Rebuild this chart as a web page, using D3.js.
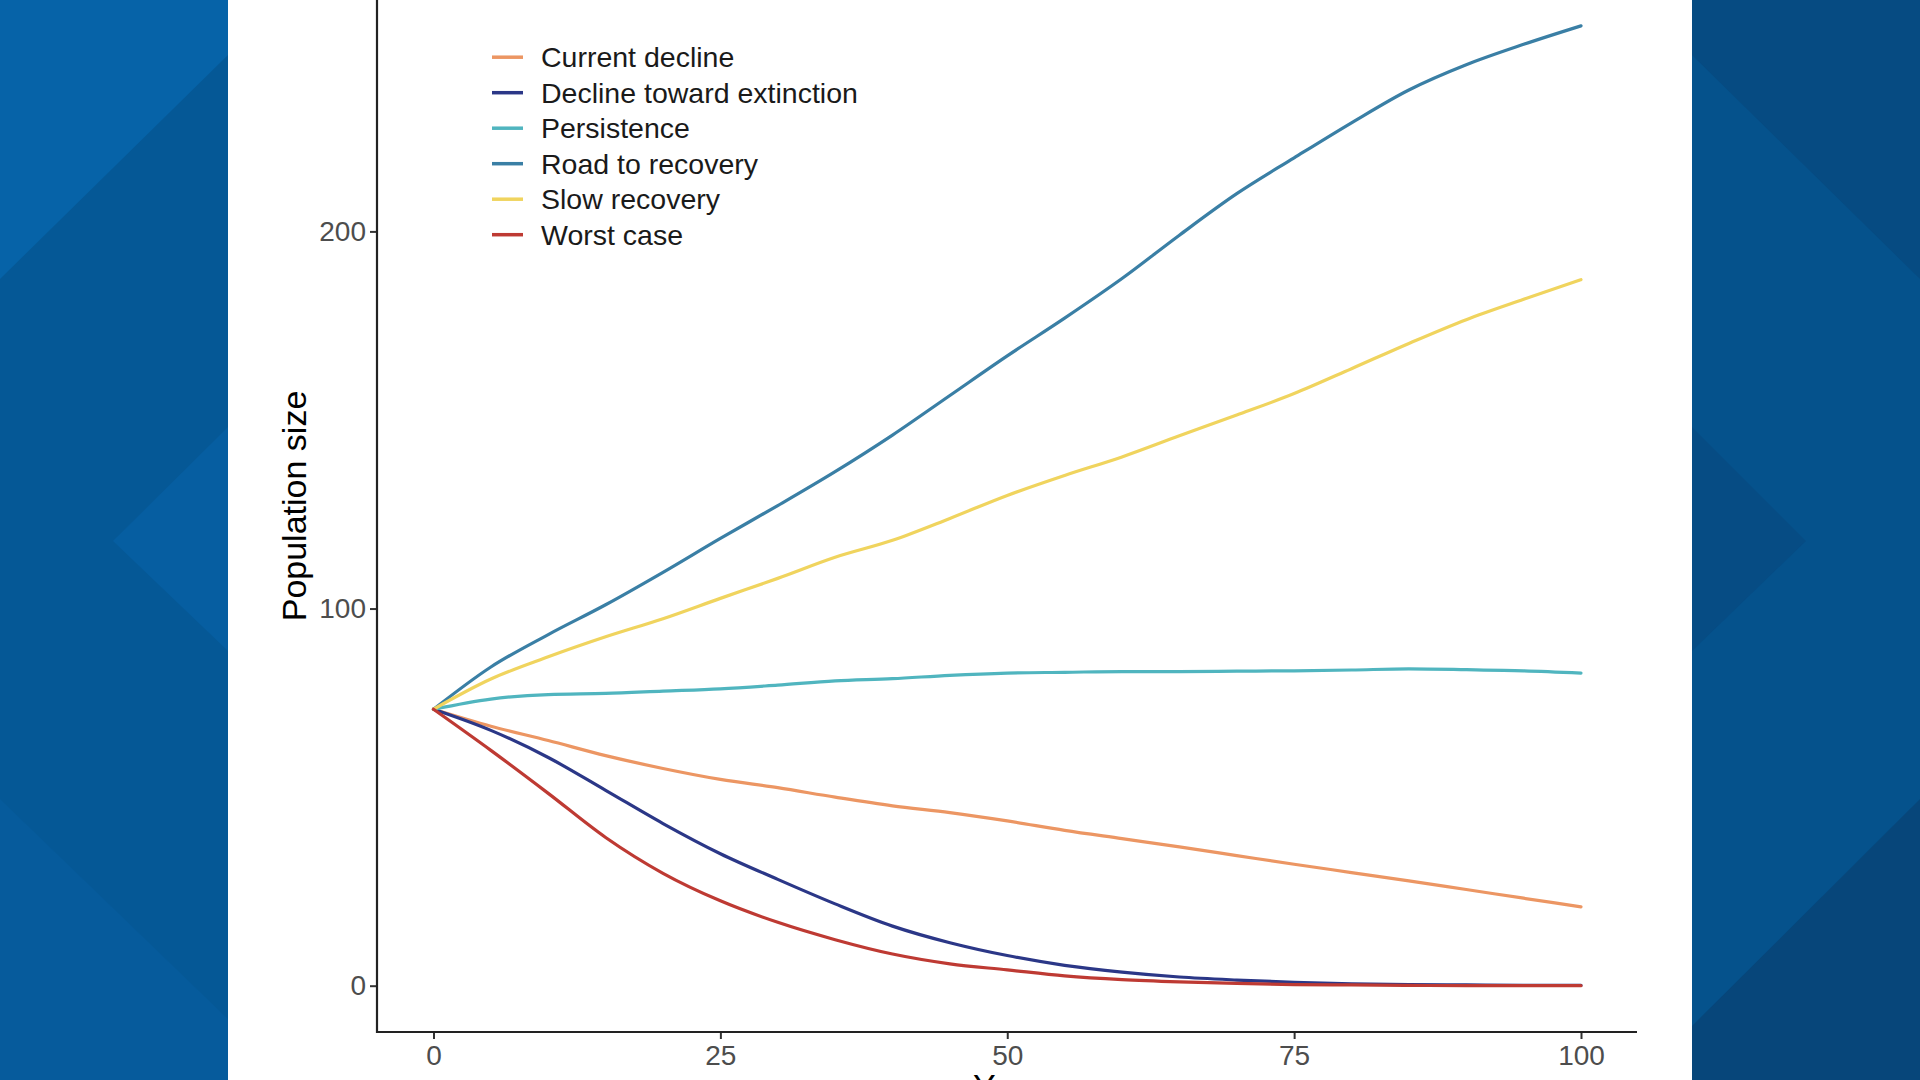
<!DOCTYPE html>
<html lang="en">
<head>
<meta charset="UTF-8">
<title>Population size projections</title>
<script src="https://d3js.org/d3.v7.min.js"></script>
<style>
  html, body { margin: 0; padding: 0; overflow: hidden; }
  svg { display: block; font-family: "Liberation Sans", Arial, sans-serif; }
</style>
</head>
<body>
<svg id="plot" width="1920" height="1080"></svg>
<script>
// years sampled every 5
const years = [0, 5, 10, 15, 20, 25, 30, 35, 40, 45, 50, 55, 60, 65, 70, 75, 80, 85, 90, 95, 100];

const currentDecline = [73.3, 68.8, 65.0, 61.0, 57.6, 54.7, 52.5, 50.0, 47.7, 45.9, 43.7, 41.2, 39.0, 36.8, 34.5, 32.2, 30.0, 27.8, 25.5, 23.2, 20.9];
const declineExtinction = [73.3, 67.7, 60.5, 51.8, 43.0, 35.0, 28.2, 21.7, 15.8, 11.4, 8.0, 5.4, 3.6, 2.3, 1.5, 0.9, 0.5, 0.3, 0.2, 0.1, 0.1];
const persistence = [73.3, 76.0, 77.2, 77.5, 78.1, 78.7, 79.7, 80.8, 81.4, 82.3, 82.9, 83.1, 83.3, 83.3, 83.4, 83.5, 83.7, 84.0, 83.8, 83.5, 82.9];
const roadToRecovery = [73.3, 84.5, 93.1, 101.0, 109.6, 118.6, 127.3, 136.3, 146.0, 156.5, 167.0, 177.0, 187.5, 199.0, 210.0, 219.5, 228.8, 237.5, 244.2, 249.6, 254.5];
const slowRecovery = [73.3, 81.3, 87.2, 92.5, 97.3, 102.7, 108.0, 113.6, 118.1, 123.9, 130.0, 135.3, 140.2, 145.8, 151.3, 157.0, 163.6, 170.3, 176.6, 182.0, 187.2];
const worstCase = [73.3, 62.4, 51.0, 39.3, 29.8, 22.5, 16.8, 12.2, 8.4, 5.8, 4.2, 2.6, 1.6, 1.0, 0.6, 0.3, 0.2, 0.1, 0.0, 0.0, 0.0];

const seriesNames = ["Current decline", "Decline toward extinction", "Persistence", "Road to recovery", "Slow recovery", "Worst case"];
const seriesValues = [currentDecline, declineExtinction, persistence, roadToRecovery, slowRecovery, worstCase];
const seriesColors = ["#EC9663", "#2B3787", "#50B5BF", "#3A7FA5", "#F0D45E", "#BE3A33"];

const xTicks = [0, 25, 50, 75, 100];
const yTicks = [0, 100, 200];

const svg = d3.select("#plot");

// ---- background (blue side panels with chevrons) ----
const bg = svg.append("g");
bg.append("rect").attr("width", 1920).attr("height", 1080).attr("fill", "#055896");
// left side
bg.append("polygon").attr("points", "0,0 228,0 228,55 0,279").attr("fill", "#0663A8");
bg.append("polygon").attr("points", "228,427 113,541 228,651").attr("fill", "#065EA1");
bg.append("polygon").attr("points", "0,799 228,1019 228,1080 0,1080").attr("fill", "#065B9C");
// right side
bg.append("rect").attr("x", 1692).attr("width", 228).attr("height", 1080).attr("fill", "#05528C");
bg.append("polygon").attr("points", "1692,0 1920,0 1920,279 1692,55").attr("fill", "#064B82");
bg.append("polygon").attr("points", "1692,427 1806,541 1692,651").attr("fill", "#064C84");
bg.append("polygon").attr("points", "1920,799 1692,1026 1692,1080 1920,1080").attr("fill", "#07467A");
// white chart panel
bg.append("rect").attr("x", 228).attr("y", 0).attr("width", 1464).attr("height", 1080).attr("fill", "#ffffff");

// ---- scales ----
const x = d3.scaleLinear().domain([0, 100]).range([433.5, 1581]);
const y = d3.scaleLinear().domain([0, 200]).range([985.7, 231.4]);

const axisX = 377;
const axisY = 1032;

// ---- lines ----
const line = d3.line()
  .x((d, i) => x(years[i]))
  .y(d => y(d))
  .curve(d3.curveMonotoneX);

svg.append("g").selectAll("path")
  .data(seriesValues)
  .join("path")
  .attr("d", d => line(d))
  .attr("fill", "none")
  .attr("stroke", (d, i) => seriesColors[i])
  .attr("stroke-width", 3.2)
  .attr("stroke-linejoin", "round")
  .attr("stroke-linecap", "round");

// ---- axes ----
const gy = svg.append("g")
  .attr("transform", "translate(" + axisX + ",0)")
  .call(d3.axisLeft(y).tickValues(yTicks).tickSize(7).tickPadding(4));
gy.select(".domain").remove();

const gx = svg.append("g")
  .attr("transform", "translate(0," + axisY + ")")
  .call(d3.axisBottom(x).tickValues(xTicks).tickSize(7).tickPadding(6));
gx.select(".domain").remove();

svg.selectAll(".tick line").attr("stroke", "#333333").attr("stroke-width", 2);
svg.selectAll(".tick text")
  .attr("fill", "#4d4d4d")
  .style("font-size", "28px")
  .style("font-family", "'Liberation Sans', Arial, sans-serif");

svg.append("line")
  .attr("x1", axisX).attr("x2", axisX)
  .attr("y1", 0).attr("y2", axisY + 1)
  .attr("stroke", "#222222").attr("stroke-width", 2.2);
svg.append("line")
  .attr("x1", axisX - 1).attr("x2", 1637)
  .attr("y1", axisY).attr("y2", axisY)
  .attr("stroke", "#222222").attr("stroke-width", 2.2);

// axis titles
svg.append("text")
  .attr("transform", "translate(306,506) rotate(-90)")
  .attr("text-anchor", "middle")
  .style("font-size", "34px")
  .attr("fill", "#000")
  .text("Population size");

// x title sits mostly below the visible frame, as in the source image
svg.append("text")
  .attr("x", (x(0) + x(100)) / 2)
  .attr("y", 1098)
  .attr("text-anchor", "middle")
  .style("font-size", "34px")
  .attr("fill", "#000")
  .text("Year");

// ---- legend ----
const legend = svg.append("g").attr("transform", "translate(492,57.2)");
const rows = legend.selectAll("g")
  .data(seriesNames)
  .join("g")
  .attr("transform", (d, i) => "translate(0," + i * 35.5 + ")");
rows.append("line")
  .attr("x1", 0).attr("x2", 31)
  .attr("stroke", (d, i) => seriesColors[i])
  .attr("stroke-width", 3.5);
rows.append("text")
  .attr("x", 49)
  .attr("dy", "0.36em")
  .style("font-size", "28.5px")
  .attr("fill", "#1a1a1a")
  .text(d => d);
</script>
</body>
</html>
